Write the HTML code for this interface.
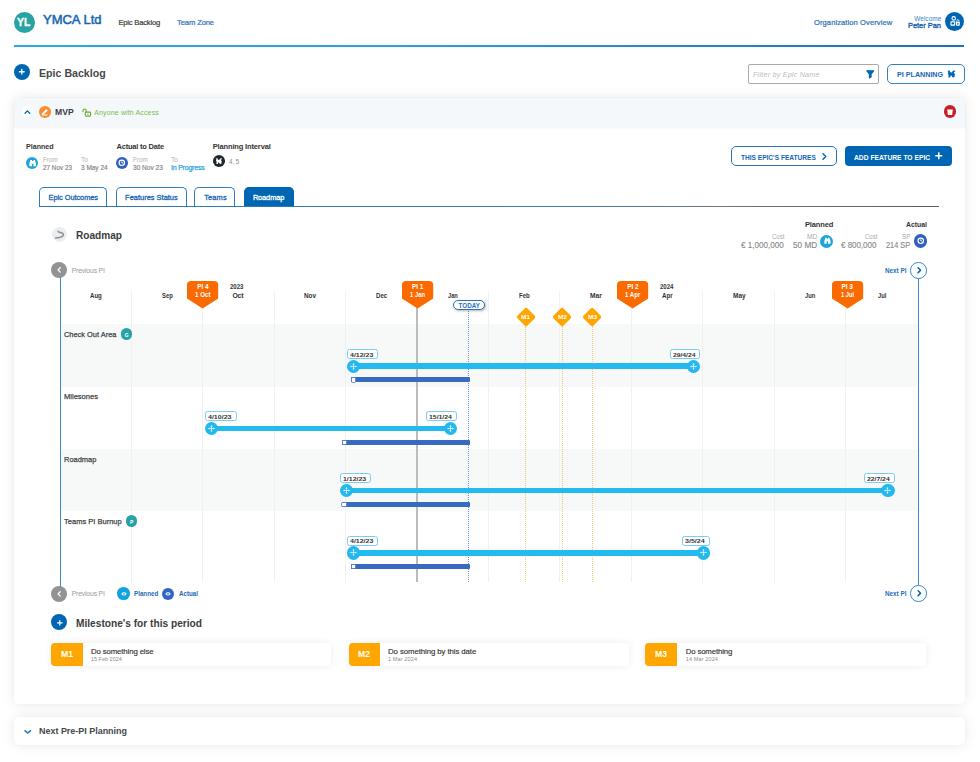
<!DOCTYPE html>
<html lang="en"><head><meta charset="utf-8"><title>Epic Backlog</title>
<style>
html,body{margin:0;padding:0}
body{width:980px;height:762px;position:relative;overflow:hidden;background:#fff;font-family:"Liberation Sans",sans-serif}
.a{position:absolute;box-sizing:border-box}
.t{position:absolute;white-space:nowrap;display:block;z-index:5}
.circ{position:absolute;border-radius:50%;box-sizing:border-box}
svg{position:absolute;overflow:visible}
.card{background:#fff;border-radius:5px;box-shadow:0 0 13px rgba(0,0,0,.095),0 0 2px rgba(0,0,0,.03)}
.grid{position:absolute;width:1px;background:#f0f0f0;top:290.5px;height:291px}
.row{position:absolute;left:60.6px;width:856px;height:62.3px;background:#f7f9f9}
.pbar{position:absolute;height:5.6px;background:#23baf0}
.abar{position:absolute;height:5.2px;background:#376bc1;border-radius:0 1px 1px 0}
.hnd{position:absolute;width:13.2px;height:13.2px;border-radius:50%;background:#23b8ee}
.sq{position:absolute;width:5.6px;height:5.6px;background:#fff;border:0.9px solid #5a7fd2;border-radius:1.6px;box-sizing:border-box}
.dlb{position:absolute;height:10px;border:1.25px solid #78cef4;border-radius:2.5px;background:#fff;box-sizing:border-box}
.tab{position:absolute;top:187.1px;height:19.7px;border:1px solid #2f7cc0;border-bottom:none;border-radius:5px 5px 0 0;box-sizing:border-box;background:#fff}
.mcard{position:absolute;top:642.9px;height:23.5px;background:#fff;border-radius:4px;box-shadow:0 0 8px rgba(0,0,0,.08)}
.mcard i{position:absolute;left:0;top:0;bottom:0;width:31.7px;background:#ffa600;border-radius:4px 0 0 4px}
.pim{position:absolute;top:281.1px;width:31.2px;height:27.6px}
.dot{position:absolute;width:0;border-left:1px dotted #fcc978}

</style></head>
<body>
<!-- header -->
<div class="circ" style="left:13.8px;top:11.5px;width:21px;height:21px;background:#28a3a4"></div>
<div class="a" style="left:13.8px;top:45.2px;width:950.6px;height:1.8px;background:linear-gradient(90deg,#2aaae2 0%,#2aa0dc 40%,#1f6fb8 100%)"></div>
<div class="circ" style="left:945.1px;top:12px;width:19.4px;height:19.4px;background:#0066b3"></div>
<svg style="left:950px;top:16.2px" width="10.2" height="11" viewBox="0 0 11 12"><circle cx="4" cy="2.6" r="1.9" fill="none" stroke="#fff" stroke-width="1.2"/><rect x="0.4" y="5.6" width="5.2" height="5" rx="0.8" fill="#fff"/><rect x="6.4" y="6.4" width="4.2" height="4.2" rx="0.7" fill="#fff"/><path d="M7.3 6.4V5.2a1.2 1.2 0 0 1 2.4 0v1.2" fill="none" stroke="#fff" stroke-width="0.9"/><rect x="7.9" y="7.6" width="1.2" height="1.8" fill="#0066b3"/><rect x="1.6" y="7" width="2.8" height="2.2" fill="#0066b3"/></svg>

<!-- page heading -->
<div class="circ" style="left:13.8px;top:63.7px;width:16px;height:16px;background:#0066b3"></div>
<svg style="left:19px;top:68.9px" width="5.6" height="5.6" viewBox="0 0 7 7"><path d="M3.5 0.6v5.8M0.6 3.5h5.8" stroke="#fff" stroke-width="1.7" stroke-linecap="round"/></svg>
<div class="a" style="left:747.7px;top:64.4px;width:131px;height:20.1px;border:1px solid #a9a9a9;border-radius:2px;background:#fff"></div>
<svg style="left:865.5px;top:70.3px" width="8.5" height="8.5" viewBox="0 0 10 10"><path d="M0.8 0.8h8.4L6 4.8v3.4L4 9.4V4.8z" fill="#0066b3" stroke="#0066b3" stroke-width="1.3" stroke-linejoin="round"/></svg>
<div class="a" style="left:887.2px;top:64.4px;width:77.4px;height:19.5px;border:1.1px solid #3380c2;border-radius:5px;background:#fff"></div>
<svg style="left:947.1px;top:69.6px" width="8.6" height="7.9" viewBox="0 0 9 8"><path d="M0.3 0.7L2.7 0.3L3.5 2.3L5 2.5L6.2 0.6L8.8 0.3L8.4 1.6L7 2.2L8.7 5.1L7.6 5.6L8.2 7.3L5.9 7.8L4.9 5.9L3.7 5.7L3.3 7.8L1.4 7.6L1.7 5L0.8 3.2L1.5 2z" fill="#0066b3"/></svg>

<!-- epic card -->
<div class="a card" style="left:13.8px;top:97.5px;width:950.8px;height:606.5px"></div>
<div class="a" style="left:13.8px;top:97.5px;width:950.8px;height:29.1px;background:#f4f8fb;border-radius:5px 5px 0 0;box-shadow:0 1px 2.5px rgba(0,0,0,.05)"></div>
<div class="circ" style="left:22px;top:106.4px;width:11px;height:11px;background:#fff"></div>
<svg style="left:24.1px;top:110.3px" width="6.8" height="3.9" viewBox="0 0 6.2 4"><path d="M0.7 3.3L3.1 0.9l2.4 2.4" fill="none" stroke="#0066b3" stroke-width="1.4" stroke-linecap="round" stroke-linejoin="round"/></svg>
<div class="circ" style="left:38.9px;top:105.7px;width:12.2px;height:12.2px;background:#fd8a2c"></div>
<svg style="left:41.4px;top:108px" width="7.4" height="7.6" viewBox="0 0 7.4 7.6"><path d="M1.2 5.2L5.2 1l1.6 1.5-4 4.1-2 .4z" fill="#fff"/><path d="M0.8 7h5.8" stroke="#fff" stroke-width="1"/></svg>
<svg style="left:82px;top:107.6px" width="9.2" height="8.6" viewBox="0 0 9.2 8.6"><path d="M1 3.6V2.6a1.6 1.6 0 0 1 3.2 0v2" fill="none" stroke="#6aa92b" stroke-width="1.1" stroke-linecap="round"/><rect x="3.3" y="4.1" width="5.3" height="4" rx="0.8" fill="#fff" stroke="#6aa92b" stroke-width="1.1"/><rect x="5.4" y="5.5" width="1.1" height="1.3" fill="#6aa92b"/></svg>
<div class="circ" style="left:943.6px;top:105.2px;width:12.8px;height:12.8px;background:#c62026"></div>
<svg style="left:947px;top:108.6px" width="6" height="6.4" viewBox="0 0 6 6.4"><path d="M0.2 0.4H5.8L5.2 6H0.8z" fill="#fff"/></svg>

<!-- planned / actual / PI -->
<div class="circ" style="left:26.2px;top:156.8px;width:12.1px;height:12.1px;background:#1ca4dc"></div>
<svg style="left:28.6px;top:158.9px" width="7.3" height="8.0" viewBox="0 0 10 10"><path d="M0.5 9.5V5.5L2 0.8H4.2V2.2H5.8V0.8H8L9.5 5.5V9.5H6V6H4V9.5z" fill="#fff"/></svg>
<div class="circ" style="left:116.2px;top:156.8px;width:12.1px;height:12.1px;background:#2f5fc0"></div>
<svg style="left:118.45px;top:159.05px" width="7.6" height="7.6" viewBox="0 0 10 10"><circle cx="5" cy="5" r="3.6" fill="none" stroke="#fff" stroke-width="1.5"/><path d="M5 3V5.3H6.8" fill="none" stroke="#fff" stroke-width="1.1"/></svg>
<div class="circ" style="left:212.6px;top:155px;width:12.6px;height:12.2px;background:#20262b"></div>
<svg style="left:215.1px;top:158.2px" width="7.6" height="6.2" viewBox="0 0 9 8"><path d="M0.3 0.7L2.7 0.3L3.5 2.3L5 2.5L6.2 0.6L8.8 0.3L8.4 1.6L7 2.2L8.7 5.1L7.6 5.6L8.2 7.3L5.9 7.8L4.9 5.9L3.7 5.7L3.3 7.8L1.4 7.6L1.7 5L0.8 3.2L1.5 2z" fill="#fff"/></svg>

<!-- buttons -->
<div class="a" style="left:730.7px;top:146px;width:106.2px;height:20.4px;border:1px solid #2a72b8;border-radius:5px;background:#fff"></div>
<svg style="left:821.6px;top:152.9px" width="5" height="7" viewBox="0 0 5 7"><path d="M1 0.8L3.8 3.5 1 6.2" fill="none" stroke="#0066b3" stroke-width="1.5" stroke-linecap="round" stroke-linejoin="round"/></svg>
<div class="a" style="left:844.5px;top:146px;width:107.2px;height:20.4px;border-radius:4px;background:#0066b3"></div>
<svg style="left:934.8px;top:152.4px" width="7.6" height="7.6" viewBox="0 0 7.6 7.6"><path d="M3.8 0.3v7M0.3 3.8h7" stroke="#fff" stroke-width="1.5"/></svg>

<!-- tabs -->
<div class="tab" style="left:39.4px;width:67.7px"></div>
<div class="tab" style="left:115.7px;width:71.4px"></div>
<div class="tab" style="left:194.3px;width:40.8px"></div>
<div class="tab" style="left:243.7px;width:50.6px;background:#0066b3;border-color:#0066b3"></div>

<div class="a" style="left:39.4px;top:206px;width:900px;height:1.1px;background:linear-gradient(90deg,#2a72b8 0%,#3b7dbd 55%,#70757a 76%,#5c5c5c 100%)"></div>
<!-- roadmap heading -->
<div class="circ" style="left:51.7px;top:226.7px;width:15.5px;height:15.5px;background:#eceeed"></div>
<svg style="left:51.7px;top:226.7px" width="15.5" height="15.5" viewBox="0 0 15.5 15.5"><path d="M6 4.3L7 5.2C9 5.6 11.4 6 11.4 7.6C11.4 9.6 9.2 10.2 7.6 10.4L3.6 11" fill="none" stroke="#8b919a" stroke-width="1.5" stroke-linecap="round" stroke-linejoin="round"/></svg>
<div class="circ" style="left:820.2px;top:234.6px;width:13px;height:13px;background:#1ca4dc"></div>
<svg style="left:823.6px;top:237.2px" width="6.8" height="7.2" viewBox="0 0 10 10"><path d="M0.5 9.5V5.5L2 0.8H4.2V2.2H5.8V0.8H8L9.5 5.5V9.5H6V6H4V9.5z" fill="#fff"/></svg>
<div class="circ" style="left:913.9px;top:234.4px;width:13.2px;height:13.2px;background:#2f5fc0"></div>
<svg style="left:916.7px;top:237.2px" width="7.6" height="7.6" viewBox="0 0 10 10"><circle cx="5" cy="5" r="3.6" fill="none" stroke="#fff" stroke-width="1.5"/><path d="M5 3V5.3H6.8" fill="none" stroke="#fff" stroke-width="1.1"/></svg>
<div class="row" style="top:324.3px"></div>
<div class="row" style="top:449.0px"></div>
<div class="grid" style="left:130.6px"></div>
<div class="grid" style="left:202.1px"></div>
<div class="grid" style="left:273.5px"></div>
<div class="grid" style="left:344.9px"></div>
<div class="grid" style="left:487.9px"></div>
<div class="grid" style="left:559.3px"></div>
<div class="grid" style="left:630.8px"></div>
<div class="grid" style="left:702.2px"></div>
<div class="grid" style="left:773.6px"></div>
<div class="grid" style="left:845.1px"></div>
<div class="a" style="left:59.5px;top:277px;width:1.3px;height:310px;background:#3f88cb"></div>
<div class="a" style="left:918.1px;top:277px;width:1.2px;height:310px;background:#3f88cb"></div>
<div class="a" style="left:416.4px;top:305px;width:1.5px;height:276.5px;background:#bcbcbc"></div>
<div class="dot" style="left:468.1px;top:311px;height:270.5px;border-left:1px dotted #5b95d1"></div>
<div class="dot" style="left:525.3px;top:326px;height:255.5px"></div>
<div class="dot" style="left:561.9px;top:326px;height:255.5px"></div>
<div class="dot" style="left:591.7px;top:326px;height:255.5px"></div>
<svg style="left:187.4px;top:281.1px" width="31.2" height="27.8" viewBox="0 0 31.2 27.8"><path d="M4 0h23.2a4 4 0 0 1 4 4v13.6L15.6 27.6 0 17.6V4a4 4 0 0 1 4-4z" fill="#fa6a00"/></svg>
<svg style="left:402.1px;top:281.1px" width="31.2" height="27.8" viewBox="0 0 31.2 27.8"><path d="M4 0h23.2a4 4 0 0 1 4 4v13.6L15.6 27.6 0 17.6V4a4 4 0 0 1 4-4z" fill="#fa6a00"/></svg>
<svg style="left:617.4px;top:281.1px" width="31.2" height="27.8" viewBox="0 0 31.2 27.8"><path d="M4 0h23.2a4 4 0 0 1 4 4v13.6L15.6 27.6 0 17.6V4a4 4 0 0 1 4-4z" fill="#fa6a00"/></svg>
<svg style="left:831.5px;top:281.1px" width="31.2" height="27.8" viewBox="0 0 31.2 27.8"><path d="M4 0h23.2a4 4 0 0 1 4 4v13.6L15.6 27.6 0 17.6V4a4 4 0 0 1 4-4z" fill="#fa6a00"/></svg>
<div class="a" style="left:453.1px;top:300.3px;width:32.2px;height:9.6px;border:1px solid #2a72b8;border-radius:5px;background:#fff;box-shadow:1px 1px 2.5px rgba(0,0,0,.3)"></div>
<div class="a" style="left:518.7px;top:310.1px;width:14.2px;height:14.2px;background:#ffa602;border-radius:2px;transform:rotate(45deg)"></div>
<div class="a" style="left:555.3px;top:310.1px;width:14.2px;height:14.2px;background:#ffa602;border-radius:2px;transform:rotate(45deg)"></div>
<div class="a" style="left:585.1px;top:310.1px;width:14.2px;height:14.2px;background:#ffa602;border-radius:2px;transform:rotate(45deg)"></div>
<div class="circ" style="left:51.2px;top:261.9px;width:16.2px;height:16.2px;background:#939393"></div>
<svg style="left:56.9px;top:267.1px" width="4.2" height="5.8" viewBox="0 0 5 7"><path d="M3.9 0.8L1.2 3.5 3.9 6.2" fill="none" stroke="#fff" stroke-width="1.6" stroke-linecap="round" stroke-linejoin="round"/></svg>
<div class="circ" style="left:910.4px;top:262.35px;width:16.5px;height:16.5px;background:#fff;border:1.15px solid #3a86c6"></div>
<svg style="left:916.6px;top:267.4px" width="4.8" height="6.4" viewBox="0 0 5 7"><path d="M1.1 0.8L3.8 3.5 1.1 6.2" fill="none" stroke="#0066b3" stroke-width="1.7" stroke-linecap="round" stroke-linejoin="round"/></svg>
<div class="circ" style="left:51.2px;top:585.6px;width:16.2px;height:16.2px;background:#939393"></div>
<svg style="left:56.9px;top:590.8px" width="4.2" height="5.8" viewBox="0 0 5 7"><path d="M3.9 0.8L1.2 3.5 3.9 6.2" fill="none" stroke="#fff" stroke-width="1.6" stroke-linecap="round" stroke-linejoin="round"/></svg>
<div class="circ" style="left:910.4px;top:585.25px;width:16.5px;height:16.5px;background:#fff;border:1.15px solid #3a86c6"></div>
<svg style="left:916.6px;top:590.3px" width="4.8" height="6.4" viewBox="0 0 5 7"><path d="M1.1 0.8L3.8 3.5 1.1 6.2" fill="none" stroke="#0066b3" stroke-width="1.7" stroke-linecap="round" stroke-linejoin="round"/></svg>
<div class="circ" style="left:120.85px;top:328.4px;width:11.3px;height:11.3px;background:#26a2a6"></div>
<div class="circ" style="left:125.95px;top:515.25px;width:11.3px;height:11.3px;background:#26a2a6"></div>
<div class="pbar" style="left:353.4px;width:339.9px;top:363.3px"></div>
<div class="hnd" style="left:346.8px;top:359.7px"><svg style="left:3.1px;top:3.1px" width="7" height="7" viewBox="0 0 7 7" opacity=".9"><path d="M3.5 0.9V6.1M0.9 3.5H6.1" stroke="#fff" stroke-width="0.75" fill="none"/><path d="M3.5 0L4.6 1.5H2.4zM3.5 7L4.6 5.5H2.4zM0 3.5L1.5 2.4V4.6zM7 3.5L5.5 2.4V4.6z" fill="#fff"/></svg></div>
<div class="hnd" style="left:686.7px;top:359.7px"><svg style="left:3.1px;top:3.1px" width="7" height="7" viewBox="0 0 7 7" opacity=".9"><path d="M3.5 0.9V6.1M0.9 3.5H6.1" stroke="#fff" stroke-width="0.75" fill="none"/><path d="M3.5 0L4.6 1.5H2.4zM3.5 7L4.6 5.5H2.4zM0 3.5L1.5 2.4V4.6zM7 3.5L5.5 2.4V4.6z" fill="#fff"/></svg></div>
<div class="abar" style="left:351.0px;width:119.3px;top:377.2px"></div>
<div class="sq" style="left:350.8px;top:377.0px"></div>
<div class="dlb" style="left:346.8px;width:31.4px;top:348.9px"></div>
<div class="dlb" style="left:669.7px;width:30.6px;top:348.9px"></div>
<div class="pbar" style="left:211.5px;width:238.8px;top:425.8px"></div>
<div class="hnd" style="left:204.9px;top:422.2px"><svg style="left:3.1px;top:3.1px" width="7" height="7" viewBox="0 0 7 7" opacity=".9"><path d="M3.5 0.9V6.1M0.9 3.5H6.1" stroke="#fff" stroke-width="0.75" fill="none"/><path d="M3.5 0L4.6 1.5H2.4zM3.5 7L4.6 5.5H2.4zM0 3.5L1.5 2.4V4.6zM7 3.5L5.5 2.4V4.6z" fill="#fff"/></svg></div>
<div class="hnd" style="left:443.7px;top:422.2px"><svg style="left:3.1px;top:3.1px" width="7" height="7" viewBox="0 0 7 7" opacity=".9"><path d="M3.5 0.9V6.1M0.9 3.5H6.1" stroke="#fff" stroke-width="0.75" fill="none"/><path d="M3.5 0L4.6 1.5H2.4zM3.5 7L4.6 5.5H2.4zM0 3.5L1.5 2.4V4.6zM7 3.5L5.5 2.4V4.6z" fill="#fff"/></svg></div>
<div class="abar" style="left:341.8px;width:128.5px;top:439.7px"></div>
<div class="sq" style="left:341.6px;top:439.5px"></div>
<div class="dlb" style="left:205.0px;width:31.6px;top:411.4px"></div>
<div class="dlb" style="left:426.0px;width:31.0px;top:411.4px"></div>
<div class="pbar" style="left:346.6px;width:541.4px;top:487.8px"></div>
<div class="hnd" style="left:340.0px;top:484.2px"><svg style="left:3.1px;top:3.1px" width="7" height="7" viewBox="0 0 7 7" opacity=".9"><path d="M3.5 0.9V6.1M0.9 3.5H6.1" stroke="#fff" stroke-width="0.75" fill="none"/><path d="M3.5 0L4.6 1.5H2.4zM3.5 7L4.6 5.5H2.4zM0 3.5L1.5 2.4V4.6zM7 3.5L5.5 2.4V4.6z" fill="#fff"/></svg></div>
<div class="hnd" style="left:881.4px;top:484.2px"><svg style="left:3.1px;top:3.1px" width="7" height="7" viewBox="0 0 7 7" opacity=".9"><path d="M3.5 0.9V6.1M0.9 3.5H6.1" stroke="#fff" stroke-width="0.75" fill="none"/><path d="M3.5 0L4.6 1.5H2.4zM3.5 7L4.6 5.5H2.4zM0 3.5L1.5 2.4V4.6zM7 3.5L5.5 2.4V4.6z" fill="#fff"/></svg></div>
<div class="abar" style="left:341.6px;width:128.7px;top:501.7px"></div>
<div class="sq" style="left:341.4px;top:501.5px"></div>
<div class="dlb" style="left:340.0px;width:31.3px;top:473.1px"></div>
<div class="dlb" style="left:864.2px;width:30.8px;top:473.1px"></div>
<div class="pbar" style="left:353.4px;width:349.7px;top:550.0px"></div>
<div class="hnd" style="left:346.8px;top:546.4px"><svg style="left:3.1px;top:3.1px" width="7" height="7" viewBox="0 0 7 7" opacity=".9"><path d="M3.5 0.9V6.1M0.9 3.5H6.1" stroke="#fff" stroke-width="0.75" fill="none"/><path d="M3.5 0L4.6 1.5H2.4zM3.5 7L4.6 5.5H2.4zM0 3.5L1.5 2.4V4.6zM7 3.5L5.5 2.4V4.6z" fill="#fff"/></svg></div>
<div class="hnd" style="left:696.5px;top:546.4px"><svg style="left:3.1px;top:3.1px" width="7" height="7" viewBox="0 0 7 7" opacity=".9"><path d="M3.5 0.9V6.1M0.9 3.5H6.1" stroke="#fff" stroke-width="0.75" fill="none"/><path d="M3.5 0L4.6 1.5H2.4zM3.5 7L4.6 5.5H2.4zM0 3.5L1.5 2.4V4.6zM7 3.5L5.5 2.4V4.6z" fill="#fff"/></svg></div>
<div class="abar" style="left:351.0px;width:119.3px;top:563.9px"></div>
<div class="sq" style="left:350.8px;top:563.7px"></div>
<div class="dlb" style="left:346.8px;width:31.4px;top:535.8px"></div>
<div class="dlb" style="left:682.0px;width:27.7px;top:535.8px"></div>
<div class="circ" style="left:117.15px;top:587.30px;width:12.6px;height:12.6px;background:#12a3de"></div>
<svg style="left:120.5px;top:591.7px" width="6" height="3.8" viewBox="0 0 8 5.2" opacity=".88"><path d="M0.3 2.6C1.4 1 2.6 0.4 4 0.4s2.6.6 3.7 2.2C6.6 4.2 5.4 4.8 4 4.8S1.4 4.2.3 2.6z" fill="#fff"/><circle cx="4" cy="2.6" r="1.25" fill="#12a3de" opacity=".75"/></svg>
<div class="circ" style="left:162.35px;top:587.65px;width:11.9px;height:11.9px;background:#3264c6"></div>
<svg style="left:165.3px;top:591.7px" width="6" height="3.8" viewBox="0 0 8 5.2" opacity=".88"><path d="M0.3 2.6C1.4 1 2.6 0.4 4 0.4s2.6.6 3.7 2.2C6.6 4.2 5.4 4.8 4 4.8S1.4 4.2.3 2.6z" fill="#fff"/><circle cx="4" cy="2.6" r="1.25" fill="#3264c6" opacity=".75"/></svg>
<div class="circ" style="left:51.2px;top:614.2px;width:16.2px;height:16.2px;background:#0066b3"></div>
<svg style="left:56.5px;top:619.5px" width="5.6" height="5.6" viewBox="0 0 7 7"><path d="M3.5 0.6v5.8M0.6 3.5h5.8" stroke="#fff" stroke-width="1.5" stroke-linecap="round"/></svg>
<div class="mcard" style="left:51.1px;width:279.9px"><i></i></div>
<div class="mcard" style="left:348.7px;width:280.0px"><i></i></div>
<div class="mcard" style="left:645.3px;width:281.0px"><i></i></div>
<div class="a card" style="left:13.8px;top:716.8px;width:950.8px;height:28px"></div>
<svg style="left:23.8px;top:729.9px" width="7.4" height="4" viewBox="0 0 6 4" preserveAspectRatio="none"><path d="M0.8 0.8L3 3l2.2-2.2" fill="none" stroke="#1a7cc9" stroke-width="1.4" stroke-linecap="round" stroke-linejoin="round"/></svg>
<span class="t" style="left:17.4px;top:15.45px;line-height:14.3px;font-size:11.0px;font-weight:700;color:#fff;transform:scaleX(0.9529);transform-origin:0 50%;-webkit-text-stroke:0.35px #fff;">YL</span>
<span class="t" style="left:42.9px;top:11.20px;line-height:17.81px;font-size:13.7px;font-weight:400;color:#1766b3;transform:scaleX(0.9493);transform-origin:0 50%;-webkit-text-stroke:0.55px #1766b3;">YMCA Ltd</span>
<span class="t" style="left:118.4px;top:17.96px;line-height:9.88px;font-size:7.6px;font-weight:400;color:#3a3a3a;letter-spacing:-0.191px;-webkit-text-stroke:0.2px #3a3a3a;">Epic Backlog</span>
<span class="t" style="left:177.1px;top:17.96px;line-height:9.88px;font-size:7.6px;font-weight:400;color:#2a72b8;letter-spacing:-0.125px;-webkit-text-stroke:0.2px #2a72b8;">Team Zone</span>
<span class="t" style="left:814.0px;top:17.96px;line-height:9.88px;font-size:7.6px;font-weight:400;color:#2a72b8;letter-spacing:0.069px;-webkit-text-stroke:0.2px #2a72b8;">Organization Overview</span>
<span class="t" style="left:914.3px;top:15.04px;line-height:8.32px;font-size:6.4px;font-weight:400;color:#3c7fc0;letter-spacing:0.061px;">Welcome</span>
<span class="t" style="left:908.3px;top:21.40px;line-height:10.4px;font-size:8.0px;font-weight:400;color:#1766b3;transform:scaleX(0.9247);transform-origin:0 50%;-webkit-text-stroke:0.4px #1766b3;">Peter Pan</span>
<span class="t" style="left:38.6px;top:65.39px;line-height:15.21px;font-size:11.7px;font-weight:700;color:#46494c;transform:scaleX(0.9086);transform-origin:0 50%;">Epic Backlog</span>
<span class="t" style="left:753.0px;top:70.22px;line-height:9.36px;font-size:7.2px;font-weight:400;color:#b9bcc0;letter-spacing:0.210px;font-style:italic;">Filter by Epic Name</span>
<span class="t" style="left:896.8px;top:69.50px;line-height:10.01px;font-size:7.7px;font-weight:700;color:#1766b3;transform:scaleX(0.9304);transform-origin:0 50%;">PI PLANNING</span>
<span class="t" style="left:55.1px;top:106.81px;line-height:11.18px;font-size:8.6px;font-weight:700;color:#3a3d40;letter-spacing:0.037px;">MVP</span>
<span class="t" style="left:94.3px;top:107.85px;line-height:9.1px;font-size:7.0px;font-weight:400;color:#7fba4c;letter-spacing:0.131px;">Anyone with Access</span>
<span class="t" style="left:26.2px;top:142.32px;line-height:9.75px;font-size:7.5px;font-weight:700;color:#333;transform:scaleX(0.9456);transform-origin:0 50%;">Planned</span>
<span class="t" style="left:42.8px;top:155.71px;line-height:8.58px;font-size:6.6px;font-weight:400;color:#b4b4b4;transform:scaleX(0.9551);transform-origin:0 50%;">From</span>
<span class="t" style="left:42.8px;top:163.45px;line-height:9.1px;font-size:7.0px;font-weight:400;color:#8a8a8a;transform:scaleX(0.9085);transform-origin:0 50%;-webkit-text-stroke:0.2px #8a8a8a;">27 Nov 23</span>
<span class="t" style="left:81.1px;top:155.71px;line-height:8.58px;font-size:6.6px;font-weight:400;color:#b4b4b4;letter-spacing:-0.069px;">To</span>
<span class="t" style="left:81.1px;top:163.45px;line-height:9.1px;font-size:7.0px;font-weight:400;color:#8a8a8a;transform:scaleX(0.9237);transform-origin:0 50%;-webkit-text-stroke:0.2px #8a8a8a;">3 May 24</span>
<span class="t" style="left:116.5px;top:142.32px;line-height:9.75px;font-size:7.5px;font-weight:700;color:#333;letter-spacing:-0.211px;">Actual to Date</span>
<span class="t" style="left:132.5px;top:155.71px;line-height:8.58px;font-size:6.6px;font-weight:400;color:#b4b4b4;transform:scaleX(0.9551);transform-origin:0 50%;">From</span>
<span class="t" style="left:132.5px;top:163.45px;line-height:9.1px;font-size:7.0px;font-weight:400;color:#8a8a8a;transform:scaleX(0.9367);transform-origin:0 50%;-webkit-text-stroke:0.2px #8a8a8a;">30 Nov 23</span>
<span class="t" style="left:171.0px;top:155.71px;line-height:8.58px;font-size:6.6px;font-weight:400;color:#b4b4b4;letter-spacing:-0.069px;">To</span>
<span class="t" style="left:171.0px;top:163.45px;line-height:9.1px;font-size:7.0px;font-weight:400;color:#2aa7e0;letter-spacing:-0.210px;-webkit-text-stroke:0.25px #2aa7e0;">In Progress</span>
<span class="t" style="left:212.7px;top:142.32px;line-height:9.75px;font-size:7.5px;font-weight:700;color:#333;letter-spacing:-0.146px;">Planning Interval</span>
<span class="t" style="left:229.3px;top:158.18px;line-height:8.84px;font-size:6.8px;font-weight:400;color:#8a8a8a;transform:scaleX(0.9080);transform-origin:0 50%;">4, 5</span>
<span class="t" style="left:740.9px;top:152.52px;line-height:9.36px;font-size:7.2px;font-weight:700;color:#1766b3;transform:scaleX(0.9138);transform-origin:0 50%;">THIS EPIC&#x27;S FEATURES</span>
<span class="t" style="left:854.4px;top:152.52px;line-height:9.36px;font-size:7.2px;font-weight:700;color:#fff;transform:scaleX(0.9325);transform-origin:0 50%;">ADD FEATURE TO EPIC</span>
<span class="t" style="left:48.6px;top:193.29px;line-height:9.62px;font-size:7.4px;font-weight:400;color:#1766b3;letter-spacing:-0.060px;-webkit-text-stroke:0.3px #1766b3;">Epic Outcomes</span>
<span class="t" style="left:125.1px;top:193.29px;line-height:9.62px;font-size:7.4px;font-weight:400;color:#1766b3;letter-spacing:0.031px;-webkit-text-stroke:0.3px #1766b3;">Features Status</span>
<span class="t" style="left:204.3px;top:193.29px;line-height:9.62px;font-size:7.4px;font-weight:400;color:#1766b3;letter-spacing:0.130px;-webkit-text-stroke:0.3px #1766b3;">Teams</span>
<span class="t" style="left:252.9px;top:193.29px;line-height:9.62px;font-size:7.4px;font-weight:400;color:#fff;letter-spacing:-0.108px;-webkit-text-stroke:0.3px #fff;">Roadmap</span>
<span class="t" style="left:75.8px;top:227.99px;line-height:14.82px;font-size:11.4px;font-weight:700;color:#3a3d40;transform:scaleX(0.8843);transform-origin:0 50%;">Roadmap</span>
<span class="t" style="left:805.0px;top:220.03px;line-height:9.75px;font-size:7.5px;font-weight:700;color:#333;letter-spacing:-0.148px;">Planned</span>
<span class="t" style="left:905.7px;top:220.03px;line-height:9.75px;font-size:7.5px;font-weight:700;color:#333;transform:scaleX(0.9118);transform-origin:0 50%;">Actual</span>
<span class="t" style="left:771.5px;top:232.61px;line-height:8.97px;font-size:6.9px;font-weight:400;color:#ababab;transform:scaleX(0.8679);transform-origin:0 50%;">Cost</span>
<span class="t" style="left:741.1px;top:239.54px;line-height:11.31px;font-size:8.7px;font-weight:400;color:#868686;transform:scaleX(0.9302);transform-origin:0 50%;-webkit-text-stroke:0.12px #868686;">€ 1,000,000</span>
<span class="t" style="left:806.5px;top:232.61px;line-height:8.97px;font-size:6.9px;font-weight:400;color:#ababab;transform:scaleX(0.9609);transform-origin:0 50%;">MD</span>
<span class="t" style="left:792.6px;top:239.54px;line-height:11.31px;font-size:8.7px;font-weight:400;color:#868686;transform:scaleX(0.9455);transform-origin:0 50%;-webkit-text-stroke:0.12px #868686;">50 MD</span>
<span class="t" style="left:864.5px;top:232.61px;line-height:8.97px;font-size:6.9px;font-weight:400;color:#ababab;transform:scaleX(0.8679);transform-origin:0 50%;">Cost</span>
<span class="t" style="left:841.4px;top:239.54px;line-height:11.31px;font-size:8.7px;font-weight:400;color:#868686;transform:scaleX(0.9158);transform-origin:0 50%;-webkit-text-stroke:0.12px #868686;">€ 800,000</span>
<span class="t" style="left:901.5px;top:232.61px;line-height:8.97px;font-size:6.9px;font-weight:400;color:#ababab;transform:scaleX(0.9236);transform-origin:0 50%;">SP</span>
<span class="t" style="left:885.8px;top:239.54px;line-height:11.31px;font-size:8.7px;font-weight:400;color:#868686;transform:scaleX(0.8491);transform-origin:0 50%;-webkit-text-stroke:0.12px #868686;">214 SP</span>
<span class="t" style="left:71.7px;top:267.01px;line-height:8.97px;font-size:6.9px;font-weight:400;color:#9a9a9a;letter-spacing:-0.203px;">Previous PI</span>
<span class="t" style="left:884.7px;top:267.01px;line-height:8.97px;font-size:6.9px;font-weight:700;color:#2070b9;transform:scaleX(0.9155);transform-origin:0 50%;">Next PI</span>
<span class="t" style="left:89.7px;top:291.81px;line-height:8.97px;font-size:6.9px;font-weight:700;color:#333;transform:scaleX(0.8802);transform-origin:0 50%;">Aug</span>
<span class="t" style="left:161.6px;top:291.81px;line-height:8.97px;font-size:6.9px;font-weight:700;color:#333;transform:scaleX(0.8465);transform-origin:0 50%;">Sep</span>
<span class="t" style="left:232.4px;top:291.81px;line-height:8.97px;font-size:6.9px;font-weight:700;color:#333;letter-spacing:-0.150px;">Oct</span>
<span class="t" style="left:230.3px;top:282.81px;line-height:8.97px;font-size:6.9px;font-weight:700;color:#333;transform:scaleX(0.8733);transform-origin:0 50%;">2023</span>
<span class="t" style="left:304.2px;top:291.81px;line-height:8.97px;font-size:6.9px;font-weight:700;color:#333;transform:scaleX(0.9209);transform-origin:0 50%;">Nov</span>
<span class="t" style="left:376.2px;top:291.81px;line-height:8.97px;font-size:6.9px;font-weight:700;color:#333;transform:scaleX(0.8849);transform-origin:0 50%;">Dec</span>
<span class="t" style="left:447.6px;top:291.81px;line-height:8.97px;font-size:6.9px;font-weight:700;color:#333;transform:scaleX(0.8253);transform-origin:0 50%;">Jan</span>
<span class="t" style="left:518.9px;top:291.81px;line-height:8.97px;font-size:6.9px;font-weight:700;color:#333;transform:scaleX(0.8724);transform-origin:0 50%;">Feb</span>
<span class="t" style="left:589.6px;top:291.81px;line-height:8.97px;font-size:6.9px;font-weight:700;color:#333;transform:scaleX(0.9620);transform-origin:0 50%;">Mar</span>
<span class="t" style="left:662.1px;top:291.81px;line-height:8.97px;font-size:6.9px;font-weight:700;color:#333;transform:scaleX(0.9011);transform-origin:0 50%;">Apr</span>
<span class="t" style="left:659.8px;top:282.81px;line-height:8.97px;font-size:6.9px;font-weight:700;color:#333;transform:scaleX(0.8733);transform-origin:0 50%;">2024</span>
<span class="t" style="left:732.7px;top:291.81px;line-height:8.97px;font-size:6.9px;font-weight:700;color:#333;transform:scaleX(0.9399);transform-origin:0 50%;">May</span>
<span class="t" style="left:805.1px;top:291.81px;line-height:8.97px;font-size:6.9px;font-weight:700;color:#333;transform:scaleX(0.8479);transform-origin:0 50%;">Jun</span>
<span class="t" style="left:877.8px;top:291.81px;line-height:8.97px;font-size:6.9px;font-weight:700;color:#333;transform:scaleX(0.8426);transform-origin:0 50%;">Jul</span>
<span class="t" style="left:197.3px;top:283.48px;line-height:8.45px;font-size:6.5px;font-weight:700;color:#fff;letter-spacing:-0.054px;">PI 4</span>
<span class="t" style="left:195.2px;top:291.44px;line-height:8.71px;font-size:6.7px;font-weight:700;color:#fff;transform:scaleX(0.9322);transform-origin:0 50%;">1 Oct</span>
<span class="t" style="left:412.0px;top:283.48px;line-height:8.45px;font-size:6.5px;font-weight:700;color:#fff;letter-spacing:-0.054px;">PI 1</span>
<span class="t" style="left:410.2px;top:291.44px;line-height:8.71px;font-size:6.7px;font-weight:700;color:#fff;transform:scaleX(0.8767);transform-origin:0 50%;">1 Jan</span>
<span class="t" style="left:627.3px;top:283.48px;line-height:8.45px;font-size:6.5px;font-weight:700;color:#fff;letter-spacing:-0.054px;">PI 2</span>
<span class="t" style="left:625.3px;top:291.44px;line-height:8.71px;font-size:6.7px;font-weight:700;color:#fff;transform:scaleX(0.9134);transform-origin:0 50%;">1 Apr</span>
<span class="t" style="left:841.4px;top:283.48px;line-height:8.45px;font-size:6.5px;font-weight:700;color:#fff;letter-spacing:-0.054px;">PI 3</span>
<span class="t" style="left:840.5px;top:291.44px;line-height:8.71px;font-size:6.7px;font-weight:700;color:#fff;transform:scaleX(0.8656);transform-origin:0 50%;">1 Jul</span>
<span class="t" style="left:458.6px;top:301.61px;line-height:8.19px;font-size:6.3px;font-weight:700;color:#2a72b8;letter-spacing:0.010px;">TODAY</span>
<span class="t" style="left:521.3px;top:314.00px;line-height:7.8px;font-size:6.0px;font-weight:700;color:#fff;transform:scaleX(1.0787);transform-origin:0 50%;">M1</span>
<span class="t" style="left:557.9px;top:314.00px;line-height:7.8px;font-size:6.0px;font-weight:700;color:#fff;transform:scaleX(1.0787);transform-origin:0 50%;">M2</span>
<span class="t" style="left:587.7px;top:314.00px;line-height:7.8px;font-size:6.0px;font-weight:700;color:#fff;transform:scaleX(1.0787);transform-origin:0 50%;">M3</span>
<span class="t" style="left:64.0px;top:329.60px;line-height:10.4px;font-size:8.0px;font-weight:400;color:#404346;transform:scaleX(0.9277);transform-origin:0 50%;-webkit-text-stroke:0.25px #404346;">Check Out Area</span>
<span class="t" style="left:64.0px;top:392.10px;line-height:10.4px;font-size:8.0px;font-weight:400;color:#404346;transform:scaleX(0.9440);transform-origin:0 50%;-webkit-text-stroke:0.25px #404346;">Milesones</span>
<span class="t" style="left:64.0px;top:454.60px;line-height:10.4px;font-size:8.0px;font-weight:400;color:#404346;transform:scaleX(0.9312);transform-origin:0 50%;-webkit-text-stroke:0.25px #404346;">Roadmap</span>
<span class="t" style="left:64.0px;top:516.60px;line-height:10.4px;font-size:8.0px;font-weight:400;color:#404346;transform:scaleX(0.9401);transform-origin:0 50%;-webkit-text-stroke:0.25px #404346;">Teams PI Burnup</span>
<span class="t" style="left:124.7px;top:331.75px;line-height:6.5px;font-size:5.0px;font-weight:700;color:#fff;letter-spacing:0.109px;">G</span>
<span class="t" style="left:130.1px;top:518.65px;line-height:6.5px;font-size:5.0px;font-weight:700;color:#fff;letter-spacing:0.056px;">P</span>
<span class="t" style="left:350.0px;top:350.57px;line-height:8.06px;font-size:6.2px;font-weight:700;color:#333;transform:scaleX(1.1280);transform-origin:0 50%;">4/12/23</span>
<span class="t" style="left:672.9px;top:350.57px;line-height:8.06px;font-size:6.2px;font-weight:700;color:#333;transform:scaleX(1.0893);transform-origin:0 50%;">29/4/24</span>
<span class="t" style="left:208.2px;top:413.07px;line-height:8.06px;font-size:6.2px;font-weight:700;color:#333;transform:scaleX(1.1377);transform-origin:0 50%;">4/10/23</span>
<span class="t" style="left:429.2px;top:413.07px;line-height:8.06px;font-size:6.2px;font-weight:700;color:#333;transform:scaleX(1.1086);transform-origin:0 50%;">15/1/24</span>
<span class="t" style="left:343.2px;top:474.87px;line-height:8.06px;font-size:6.2px;font-weight:700;color:#333;transform:scaleX(1.1231);transform-origin:0 50%;">1/12/23</span>
<span class="t" style="left:867.4px;top:474.87px;line-height:8.06px;font-size:6.2px;font-weight:700;color:#333;transform:scaleX(1.0989);transform-origin:0 50%;">22/7/24</span>
<span class="t" style="left:350.0px;top:537.47px;line-height:8.06px;font-size:6.2px;font-weight:700;color:#333;transform:scaleX(1.1280);transform-origin:0 50%;">4/12/23</span>
<span class="t" style="left:685.2px;top:537.37px;line-height:8.06px;font-size:6.2px;font-weight:700;color:#333;transform:scaleX(1.1393);transform-origin:0 50%;">3/5/24</span>
<span class="t" style="left:71.7px;top:590.12px;line-height:8.97px;font-size:6.9px;font-weight:400;color:#9a9a9a;letter-spacing:-0.203px;">Previous PI</span>
<span class="t" style="left:133.6px;top:590.12px;line-height:8.97px;font-size:6.9px;font-weight:700;color:#1e6ab3;transform:scaleX(0.9063);transform-origin:0 50%;">Planned</span>
<span class="t" style="left:178.9px;top:590.12px;line-height:8.97px;font-size:6.9px;font-weight:700;color:#1e6ab3;transform:scaleX(0.9021);transform-origin:0 50%;">Actual</span>
<span class="t" style="left:884.7px;top:589.91px;line-height:8.97px;font-size:6.9px;font-weight:700;color:#2070b9;transform:scaleX(0.9155);transform-origin:0 50%;">Next PI</span>
<span class="t" style="left:75.8px;top:615.79px;line-height:14.82px;font-size:11.4px;font-weight:700;color:#3a3d40;transform:scaleX(0.8916);transform-origin:0 50%;">Milestone&#x27;s for this period</span>
<span class="t" style="left:60.8px;top:650.27px;line-height:10.66px;font-size:8.2px;font-weight:700;color:#fff;transform:scaleX(1.0549);transform-origin:0 50%;">M1</span>
<span class="t" style="left:358.4px;top:650.27px;line-height:10.66px;font-size:8.2px;font-weight:700;color:#fff;transform:scaleX(1.0549);transform-origin:0 50%;">M2</span>
<span class="t" style="left:655.0px;top:650.27px;line-height:10.66px;font-size:8.2px;font-weight:700;color:#fff;transform:scaleX(1.0549);transform-origin:0 50%;">M3</span>
<span class="t" style="left:91.0px;top:646.83px;line-height:10.14px;font-size:7.8px;font-weight:400;color:#333;letter-spacing:-0.124px;-webkit-text-stroke:0.15px #333;">Do something else</span>
<span class="t" style="left:91.0px;top:655.96px;line-height:7.28px;font-size:5.6px;font-weight:400;color:#8e8e8e;letter-spacing:-0.052px;">15 Feb 2024</span>
<span class="t" style="left:388.0px;top:646.83px;line-height:10.14px;font-size:7.8px;font-weight:400;color:#333;letter-spacing:-0.077px;-webkit-text-stroke:0.15px #333;">Do something by this date</span>
<span class="t" style="left:388.0px;top:655.96px;line-height:7.28px;font-size:5.6px;font-weight:400;color:#8e8e8e;letter-spacing:0.078px;">1 Mar 2024</span>
<span class="t" style="left:685.7px;top:646.83px;line-height:10.14px;font-size:7.8px;font-weight:400;color:#333;letter-spacing:-0.137px;-webkit-text-stroke:0.15px #333;">Do something</span>
<span class="t" style="left:685.7px;top:655.96px;line-height:7.28px;font-size:5.6px;font-weight:400;color:#8e8e8e;letter-spacing:0.088px;">14 Mar 2024</span>
<span class="t" style="left:39.0px;top:726.48px;line-height:11.05px;font-size:8.5px;font-weight:700;color:#44484d;transform:scaleX(1.0525);transform-origin:0 50%;">Next Pre-PI Planning</span>
</body></html>
